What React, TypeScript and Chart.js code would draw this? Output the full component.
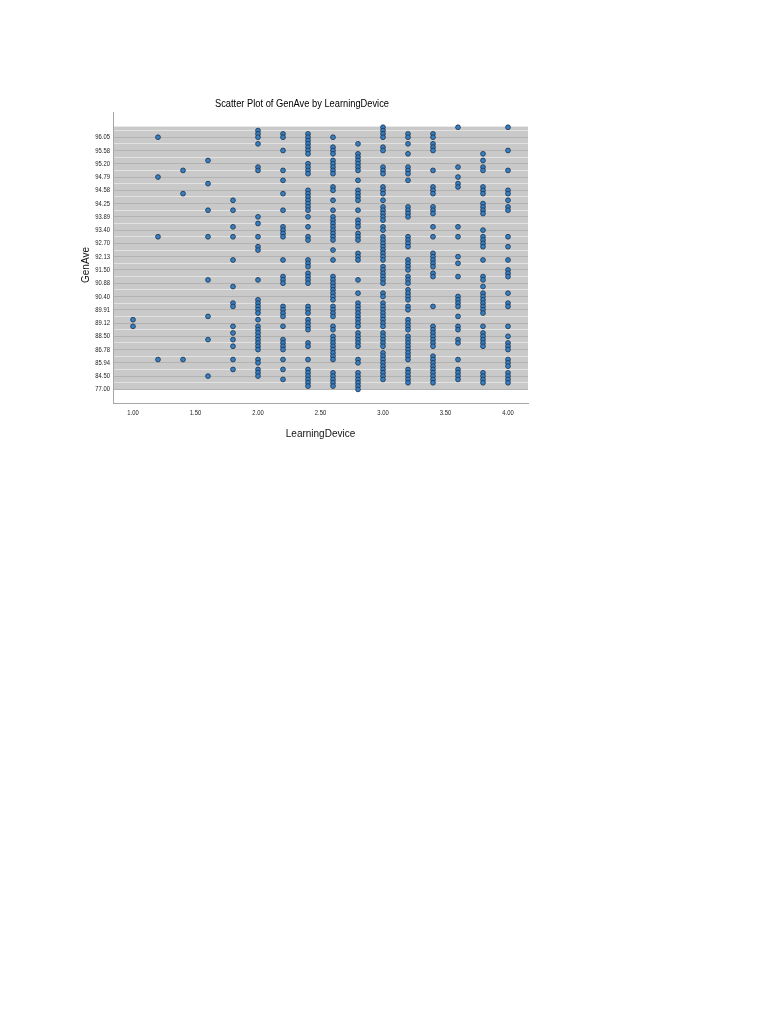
import { Chart, registerables } from "chart.js";
import { useEffect, useRef } from "react";

Chart.register(...registerables);

// GenAve is a nominal axis in the source: y values are category ranks (0 = 77.00),
// labels are printed on every 4th category.
const yTickLabels = [
  "77.00", "84.50", "85.94", "86.78", "88.50", "89.12", "89.91", "90.40", "90.88", "91.50",
  "92.13", "92.70", "93.40", "93.89", "94.25", "94.58", "94.79", "95.20", "95.58", "96.05",
];
const xTickValues = [1.0, 1.5, 2.0, 2.5, 3.0, 3.5, 4.0];

const device100 = [21, 19];
const device120 = [76, 64, 46, 9];
const device140 = [66, 59, 9];
const device160 = [69, 62, 54, 46, 33, 22, 15, 4];
const device180 = [57, 54, 49, 46, 39, 31, 26, 25, 19, 17, 15, 13, 9, 6];
const device200 = [78, 77, 76, 74, 67, 66, 52, 50, 46, 43, 42, 33, 27, 26, 25, 24, 23, 21, 19, 18, 17, 16, 15, 14, 13, 12, 9, 8, 6, 5, 4];
const device220 = [77, 76, 72, 66, 63, 59, 54, 49, 48, 47, 46, 39, 34, 33, 32, 25, 24, 23, 22, 19, 15, 14, 13, 12, 9, 6, 3];
const device240 = [77, 76, 75, 74, 73, 72, 71, 68, 67, 66, 65, 60, 59, 58, 57, 56, 55, 54, 52, 49, 46, 45, 39, 38, 37, 35, 34, 33, 32, 25, 24, 23, 21, 20, 19, 18, 14, 13, 9, 6, 5, 4, 3, 2, 1];
const device260 = [76, 73, 72, 71, 69, 68, 67, 66, 65, 61, 60, 57, 54, 52, 51, 50, 49, 48, 47, 46, 45, 42, 39, 34, 33, 32, 31, 30, 29, 28, 27, 25, 24, 23, 22, 19, 18, 16, 15, 14, 13, 12, 11, 10, 9, 5, 4, 3, 2, 1];
const device280 = [74, 71, 70, 69, 68, 67, 66, 63, 60, 59, 58, 57, 54, 51, 50, 49, 47, 46, 45, 41, 40, 39, 33, 29, 26, 25, 24, 23, 22, 21, 20, 19, 17, 16, 15, 14, 13, 9, 8, 5, 4, 3, 2, 1, 0];
const device300 = [79, 78, 77, 76, 73, 72, 67, 66, 65, 61, 60, 59, 57, 55, 54, 53, 52, 51, 49, 48, 46, 45, 44, 43, 42, 41, 40, 39, 37, 36, 35, 34, 33, 32, 29, 28, 26, 25, 24, 23, 22, 21, 20, 19, 17, 16, 15, 14, 13, 11, 10, 9, 8, 7, 6, 5, 4, 3];
const device320 = [77, 76, 74, 71, 67, 66, 65, 63, 55, 54, 53, 52, 46, 45, 44, 43, 39, 38, 37, 36, 34, 33, 32, 30, 29, 28, 27, 25, 24, 21, 20, 19, 18, 16, 15, 14, 13, 12, 11, 10, 9, 6, 5, 4, 3, 2];
const device340 = [77, 76, 74, 73, 72, 66, 61, 60, 59, 55, 54, 53, 49, 46, 41, 40, 39, 38, 37, 35, 34, 25, 19, 18, 17, 16, 15, 14, 13, 10, 9, 8, 7, 6, 5, 4, 3, 2];
const device360 = [79, 67, 64, 62, 61, 49, 46, 40, 38, 34, 28, 27, 26, 25, 22, 19, 18, 15, 14, 9, 6, 5, 4, 3];
const device380 = [71, 69, 67, 66, 61, 60, 59, 56, 55, 54, 53, 48, 46, 45, 44, 43, 39, 34, 33, 31, 29, 28, 27, 26, 25, 24, 23, 19, 17, 16, 15, 14, 13, 5, 4, 3, 2];
const device400 = [79, 72, 66, 60, 59, 57, 55, 54, 46, 43, 39, 36, 35, 34, 29, 26, 25, 19, 16, 14, 13, 12, 9, 8, 7, 5, 4, 3, 2];

const columns: [number, number[]][] = [
  [1.0, device100], [1.2, device120], [1.4, device140], [1.6, device160],
  [1.8, device180], [2.0, device200], [2.2, device220], [2.4, device240],
  [2.6, device260], [2.8, device280], [3.0, device300], [3.2, device320],
  [3.4, device340], [3.6, device360], [3.8, device380], [4.0, device400],
];

const sans = "'Liberation Sans', Arial, sans-serif";

// draws text squeezed horizontally, to mimic the narrow SPSS font
function narrowText(ctx: any, text: string, x: number, y: number, squeeze: number, align: string) {
  ctx.save();
  ctx.translate(x, y);
  ctx.scale(squeeze, 1);
  ctx.textAlign = align;
  ctx.fillText(text, 0, 0);
  ctx.restore();
}

const backdrop = {
  id: "backdrop",
  beforeDraw(chart: any) {
    const { ctx, chartArea, scales } = chart;
    const top = scales.y.getPixelForValue(79.2);
    const bottom = scales.y.getPixelForValue(0);
    ctx.save();
    ctx.fillStyle = "#c9c9c9";
    ctx.fillRect(chartArea.left, top, chartArea.right - chartArea.left, bottom - top);
    ctx.restore();
  },
  afterDraw(chart: any) {
    const { ctx, chartArea, scales } = chart;
    ctx.save();
    ctx.textBaseline = "middle";

    ctx.fillStyle = "#222";
    ctx.font = `7.5px ${sans}`;
    yTickLabels.forEach((label, i) => {
      narrowText(ctx, label, chartArea.left - 3, scales.y.getPixelForValue(i * 4), 0.78, "right");
    });
    xTickValues.forEach((value) => {
      narrowText(ctx, value.toFixed(2), scales.x.getPixelForValue(value), chartArea.bottom + 10, 0.78, "center");
    });

    ctx.fillStyle = "#000";
    ctx.font = `10px ${sans}`;
    const title = "Scatter Plot of GenAve by LearningDevice";
    const squeeze = Math.min(1, 174 / ctx.measureText(title).width);
    narrowText(ctx, title, 302, 104, squeeze, "center");

    ctx.fillStyle = "#111";
    ctx.font = `10px ${sans}`;
    ctx.textAlign = "center";
    ctx.fillText("LearningDevice", (chartArea.left + chartArea.right) / 2, 434);
    ctx.translate(86, 265);
    ctx.rotate(-Math.PI / 2);
    ctx.fillText("GenAve", 0, 0);
    ctx.restore();
  },
};

export default function App() {
  const canvasRef = useRef<HTMLCanvasElement>(null);

  useEffect(() => {
    const points = columns.flatMap(([x, ranks]) => ranks.map((y) => ({ x, y })));

    const chart = new Chart(canvasRef.current!, {
      type: "scatter",
      data: {
        datasets: [
          {
            label: "GenAve",
            data: points,
            backgroundColor: "#3580c4",
            borderColor: "#1c2e48",
            borderWidth: 0.8,
            pointRadius: 2.4,
          },
        ],
      },
      options: {
        animation: false,
        responsive: false,
        layout: { padding: { left: 0, right: 240, top: 112, bottom: 0 } },
        plugins: {
          legend: { display: false },
          title: { display: false },
          tooltip: { enabled: false },
        },
        scales: {
          x: {
            type: "linear",
            min: 0.84,
            max: 4.16,
            afterFit: (scale: any) => {
              scale.height = 67;
            },
            afterBuildTicks: (scale: any) => {
              scale.ticks = xTickValues.map((value) => ({ value }));
            },
            ticks: { display: false },
            grid: { display: false, drawTicks: false },
            border: { display: true, color: "#a6a6a6", width: 1 },
          },
          y: {
            type: "linear",
            min: -4.1,
            max: 83.6,
            afterFit: (scale: any) => {
              scale.width = 113;
            },
            afterBuildTicks: (scale: any) => {
              const ticks = [];
              for (let r = 0; r <= 78; r += 2) ticks.push({ value: r });
              scale.ticks = ticks;
            },
            ticks: { display: false, autoSkip: false },
            grid: {
              drawTicks: false,
              lineWidth: 1,
              color: (ctx: any) => (ctx.tick && ctx.tick.value % 4 === 0 ? "#b3b3b3" : "#e2e2e2"),
            },
            border: { display: true, color: "#a6a6a6", width: 1 },
          },
        },
      },
      plugins: [backdrop],
    });

    return () => chart.destroy();
  }, []);

  return (
    <div style={{ position: "absolute", left: 0, top: 0 }}>
      <canvas ref={canvasRef} width={768} height={470}></canvas>
    </div>
  );
}
